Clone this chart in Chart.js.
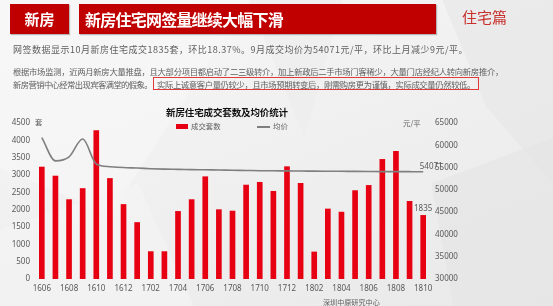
<!DOCTYPE html>
<html>
<head>
<meta charset="utf-8">
<script src="https://cdn.jsdelivr.net/npm/chart.js@4.4.1/dist/chart.umd.min.js"></script>
<style>
  html,body{margin:0;padding:0;}
  body{width:553px;height:306px;overflow:hidden;position:relative;
    background:linear-gradient(160deg,#f9f9f9 0%,#f1f1f1 40%,#e9e9e9 100%);
    font-family:"Noto Sans CJK SC","Noto Sans",sans-serif;}
  .abs{position:absolute;white-space:nowrap;}
  .poly{position:absolute;left:0;top:0;width:553px;height:306px;}
  #c{position:absolute;left:0;top:0;z-index:2;}
  .txt{z-index:3;}
  .box{background:#c00000;box-shadow:1px 1px 1px rgba(0,0,0,0.25);}
  .fit{display:inline-block;}
</style>
</head>
<body>
<div class="poly" style="background:#f6f6f6;clip-path:polygon(0 0,45% 0,20% 70%,0 55%);opacity:.7"></div>
<div class="poly" style="background:#e6e6e6;clip-path:polygon(80% 0,100% 0,100% 60%,88% 35%);opacity:.6"></div>
<div class="poly" style="background:#ececec;clip-path:polygon(45% 0,62% 0,55% 45%);opacity:.6"></div>
<div class="poly" style="background:#e4e4e4;clip-path:polygon(78% 60%,100% 45%,100% 100%,82% 100%);opacity:.6"></div>
<div class="poly" style="background:#f4f4f4;clip-path:polygon(0 75%,25% 60%,35% 100%,0 100%);opacity:.7"></div>

<div class="abs box txt" style="left:10px;top:4px;width:59px;height:30px;"></div>
<div class="abs txt" style="left:10px;top:4px;width:59px;height:30px;line-height:30px;text-align:center;color:#fff;font-weight:bold;font-size:15px;">新房</div>
<div class="abs box txt" style="left:79px;top:4px;width:357px;height:30px;"></div>
<div class="abs txt" style="left:85px;top:4px;height:30px;line-height:30px;color:#fff;font-weight:bold;font-size:16px;"><span class="fit" data-w="198">新房住宅网签量继续大幅下滑</span></div>
<div class="abs txt" style="left:462px;top:7px;line-height:20px;color:#c8302c;font-size:15px;">住宅篇</div>

<div class="abs txt" style="left:13px;top:43px;line-height:14px;color:#606060;font-size:9px;"><span class="fit" data-w="455">网签数据显示10月新房住宅成交1835套，环比18.37%。9月成交均价为54071元/平，环比上月减少9元/平。</span></div>
<div class="abs txt" style="left:13px;top:64px;line-height:14px;color:#606060;font-size:8.3px;"><span class="fit" data-w="490">根据市场监测，近两月新房大量推盘，且大部分项目都启动了二三级转介，加上新政后二手市场门客稀少，大量门店经纪人转向新房推介，</span></div>
<div class="abs txt" style="left:13px;top:77px;line-height:14px;color:#606060;font-size:8.3px;"><span class="fit" data-w="139">新房营销中心经常出现宾客满堂的假象。</span></div>
<div class="abs txt" style="left:153px;top:77px;width:324px;height:11px;border:1.2px solid #e03a3a;"></div>
<div class="abs txt" style="left:157px;top:77px;line-height:14px;color:#606060;font-size:8.3px;"><span class="fit" data-w="318">实际上诚意客户量仍较少，且市场预期转变后，刚需购房更为谨慎，实际成交量仍然较低。</span></div>

<canvas id="c" width="553" height="306"></canvas>

<div class="abs txt" style="left:166px;top:104px;line-height:16px;color:#111;font-weight:bold;font-size:9.5px;"><span class="fit" data-w="122">新房住宅成交套数及均价统计</span></div>
<div class="abs txt" style="left:176px;top:124px;width:12px;height:5px;background:#e60012;"></div>
<div class="abs txt" style="left:191px;top:120px;line-height:12px;color:#606060;font-size:7.4px;">成交套数</div>
<div class="abs txt" style="left:257px;top:126px;width:13px;height:1.5px;background:#7f7f7f;"></div>
<div class="abs txt" style="left:273px;top:120px;line-height:12px;color:#606060;font-size:7.4px;">均价</div>
<div class="abs txt" style="left:35px;top:116px;line-height:12px;color:#606060;font-size:7.4px;">套</div>
<div class="abs txt" style="left:403px;top:117px;line-height:12px;color:#606060;font-size:7.4px;">元/平</div>
<div class="abs txt" style="left:323px;top:296px;line-height:12px;color:#606060;font-size:7.1px;">深圳中原研究中心</div>

<script>
const categories = ["1606","1607","1608","1609","1610","1611","1612",
  "1701","1702","1703","1704","1705","1706","1707","1708","1709","1710","1711","1712",
  "1801","1802","1803","1804","1805","1806","1807","1808","1809","1810"];
const dealUnits = [3230,2970,2290,2610,4280,2900,2150,
  1630,790,790,1950,2290,2950,2000,1960,2710,2790,2530,3240,
  2760,780,2020,1930,2550,2700,3450,3680,2240,1835];
const avgPrice = [61700,56500,57400,61400,55800,55200,55000,
  54900,54750,54650,54600,54550,54500,54450,54400,54350,54300,54280,54250,
  54230,54200,54180,54160,54140,54120,54100,54090,54080,54071];
const leftTicks = {min:0,max:4500,step:500};
const rightTicks = {min:30000,max:65000,step:5000};

// fit text widths
document.querySelectorAll('.fit').forEach(el=>{
  const target = +el.dataset.w;
  const n = el.textContent.length;
  const w = el.getBoundingClientRect().width;
  el.style.letterSpacing = ((target - w)/n) + 'px';
});

const tickColor = '#595959';
const tickFont = {family:'"Noto Sans","Liberation Sans",sans-serif', size:8};

const labelPlugin = {
  id:'endLabels',
  afterDatasetsDraw(chart){
    const ctx = chart.ctx;
    ctx.save();
    ctx.font = '8px "Noto Sans","Liberation Sans",sans-serif';
    ctx.fillStyle = tickColor;
    ctx.textAlign = 'center';
    ctx.textBaseline = 'bottom';
    const barMeta = chart.getDatasetMeta(1);
    const lb = barMeta.data[barMeta.data.length-1];
    ctx.fillText(String(dealUnits[dealUnits.length-1]), lb.x, lb.y-3);
    const lineMeta = chart.getDatasetMeta(0);
    const lp = lineMeta.data[lineMeta.data.length-1];
    ctx.textBaseline = 'middle';
    ctx.fillText(String(avgPrice[avgPrice.length-1]), lp.x+8, lp.y-5);
    ctx.restore();
  }
};

new Chart(document.getElementById('c'), {
  data:{
    labels:categories,
    datasets:[
      {type:'line',label:'均价',data:avgPrice,yAxisID:'y1',borderColor:'#7f7f7f',borderWidth:1.6,
       pointRadius:0,cubicInterpolationMode:'monotone',fill:false,order:0},
      {type:'bar',label:'成交套数',data:dealUnits,yAxisID:'y',backgroundColor:'#e60012',
       barThickness:5,order:1}
    ]
  },
  options:{
    responsive:false,animation:false,devicePixelRatio:1,
    layout:{padding:{top:123,left:0,right:0,bottom:0}},
    plugins:{legend:{display:false},title:{display:false},tooltip:{enabled:false}},
    scales:{
      x:{grid:{display:false,drawTicks:false},border:{display:false},
         ticks:{color:tickColor,font:tickFont,padding:5,autoSkip:false,maxRotation:0,
           callback:function(v,i){return i%2===0?categories[i]:'';}},
         afterFit(a){a.height=27;}},
      y:{position:'left',min:leftTicks.min,max:leftTicks.max,
         grid:{display:false,drawTicks:false},border:{display:false},
         ticks:{stepSize:leftTicks.step,color:tickColor,font:tickFont,padding:5,
           callback:v=>String(v)},
         afterFit(a){a.width=35;}},
      y1:{position:'right',min:rightTicks.min,max:rightTicks.max,
         grid:{display:false,drawTicks:false},border:{display:false},
         ticks:{stepSize:rightTicks.step,color:tickColor,font:tickFont,padding:5,
           callback:v=>String(v)},
         afterFit(a){a.width=123;}}
    }
  },
  plugins:[labelPlugin]
});
</script>
</body>
</html>
